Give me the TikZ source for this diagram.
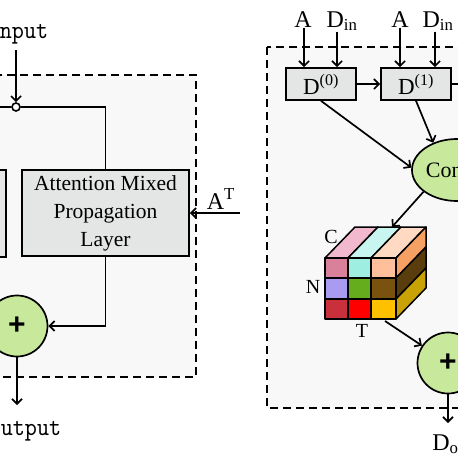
\documentclass[tikz,border=0pt]{standalone}
\usepackage{fontspec}
\setmainfont{Liberation Serif}
\newfontfamily\plusfont{Liberation Sans}
\newfontfamily\mymono[FakeStretch=0.9]{lmmono10-regular.otf}
\usetikzlibrary{arrows.meta,shapes.geometric}
\definecolor{boxgray}{HTML}{E4E6E6}
\definecolor{regiongray}{HTML}{F8F8F8}
\definecolor{plusgreen}{HTML}{C8E99C}
\definecolor{cA}{HTML}{D9809B}
\definecolor{cB}{HTML}{9EEEE2}
\definecolor{cC}{HTML}{FFBF9A}
\definecolor{cD}{HTML}{A99CF0}
\definecolor{cE}{HTML}{66AD1E}
\definecolor{cF}{HTML}{7A5210}
\definecolor{cG}{HTML}{C9303B}
\definecolor{cH}{HTML}{FF0000}
\definecolor{cI}{HTML}{FFC000}
\definecolor{tA}{HTML}{F2B9CE}
\definecolor{tB}{HTML}{C8F5F0}
\definecolor{tC}{HTML}{FFD9C2}
\definecolor{rA}{HTML}{F6A063}
\definecolor{rB}{HTML}{5A3D0C}
\definecolor{rC}{HTML}{C9A205}
\begin{document}
\begin{tikzpicture}[x=1pt,y=-1pt,
  line width=1.7pt,
  arr/.style={-{Straight Barb[length=5pt,width=10pt]}},
  region/.style={draw, dash pattern=on 8pt off 5pt, line width=2pt, fill=regiongray},
  graybox/.style={draw, line width=1.7pt, fill=boxgray, inner sep=0pt, align=center,
    font=\fontsize{21.5}{28}\selectfont},
  dbox/.style={graybox, minimum width=70pt, minimum height=32pt, font=\fontsize{23}{23}\selectfont},
  pluscirc/.style={circle, draw, line width=1.7pt, fill=plusgreen, minimum size=61pt, inner sep=0pt,
    font=\plusfont\bfseries\fontsize{30}{30}\selectfont},
  junc/.style={circle, draw, line width=1.6pt, fill=white, minimum size=8pt, inner sep=0pt},
  lbl/.style={inner sep=0pt, anchor=base, font=\fontsize{24}{24}\selectfont},
  monolbl/.style={inner sep=0pt, anchor=base, font=\mymono\fontsize{25.5}{25.5}\selectfont},
  cubelbl/.style={inner sep=0pt, font=\fontsize{20}{20}\selectfont},
  cell/.style={draw, line width=1.5pt, line join=round}
]
\clip (0,0) rectangle (458,458);
\fill[white] (0,0) rectangle (458,458);

% ---------- left part ----------
\draw[region] (-20,75) rectangle (196,377);
\node[monolbl] (inlbl) at (18,38) {Input};
\coordinate (instart) at (16,50);
\node[junc] (jn) at (16,107) {};
\node[graybox, minimum width=86pt, minimum height=87pt] (leftbox) at (-37,213.5) {};
\node[graybox, minimum width=167pt, minimum height=86pt] (apl) at (105.5,213)
  {Attention Mixed\\Propagation\\Layer};
\node[lbl, anchor=base west] (atl) at (206,209) {A\textsuperscript{T}};
\coordinate (atin) at (240,213);
\node[pluscirc] (plusl) at (17,326) {+};
\coordinate (outend) at (17,405);
\node[monolbl] (outlbl) at (25,435) {Output};

\draw[arr] (instart) -- (jn.north);
\draw (jn.east) -| (apl.north);
\draw (jn.west) -| (leftbox.north);
\draw[arr] (atin) -- (apl.east);
\draw[arr] (apl.south) |- (plusl.east);
\draw[arr] (plusl.south) -- (outend);

% ---------- right part ----------
\draw[region] (267,47) rectangle (480,408);
\node[lbl] (a1) at (303,27) {A};
\node[lbl] (din1) at (342,27) {D\textsubscript{in}};
\node[lbl] (a2) at (400,27) {A};
\node[lbl] (din2) at (438,27) {D\textsubscript{in}};
\node[dbox] (d0) at (321,84) {D\textsuperscript{(0)}};
\node[dbox] (d1) at (416,84) {D\textsuperscript{(1)}};
\coordinate (rout) at (470,84);
\node[ellipse, draw, line width=1.7pt, fill=plusgreen, minimum width=90pt, minimum height=62pt,
  inner sep=0pt, font=\fontsize{22}{22}\selectfont] (con) at (457,170) {Concat};

\draw[arr] ([xshift=1pt]a1.south) -- ([xshift=1pt]a1.south |- d0.north);
\draw[arr] ([xshift=-5pt]din1.south) -- ([xshift=-5pt]din1.south |- d0.north);
\draw[arr] ([xshift=0pt]a2.south) -- ([xshift=0pt]a2.south |- d1.north);
\draw[arr] ([xshift=-3pt]din2.south) -- ([xshift=-3pt]din2.south |- d1.north);
\draw[arr] (d0.east) -- (d1.west);
\draw (d1.east) -- (rout);
\draw[arr] (d0.south) -- (con.177);
\draw[arr] (d1.south) -- (con.131);

% cube
\def\dx{30}\def\dy{-31}
\foreach \xa/\xb/\c in {325/348/tA,348/371/tB,371/396/tC}{
  \draw[cell, fill=\c] (\xa,258) -- (\xb,258) -- (\xb+\dx,258+\dy) -- (\xa+\dx,258+\dy) -- cycle;
}
\foreach \ya/\yb/\c in {258/278/rA,278/299/rB,299/319/rC}{
  \draw[cell, fill=\c] (396,\ya) -- (396,\yb) -- (396+\dx,\yb+\dy) -- (396+\dx,\ya+\dy) -- cycle;
}
\foreach \xa/\xb/\ya/\yb/\c in {
  325/348/258/278/cA, 348/371/258/278/cB, 371/396/258/278/cC,
  325/348/278/299/cD, 348/371/278/299/cE, 371/396/278/299/cF,
  325/348/299/319/cG, 348/371/299/319/cH, 371/396/299/319/cI}{
  \draw[cell, fill=\c] (\xa,\ya) rectangle (\xb,\yb);
}
\node[cubelbl] (clbl) at (331,237) {C};
\node[cubelbl] (nlbl) at (313,287) {N};
\node[cubelbl] (tlbl) at (362,331) {T};
\coordinate (cubetop) at (392,227);
\coordinate (cubeout) at (385,321);

\node[pluscirc] (plusr) at (448,363) {+};
\coordinate (doutend) at (448,423);
\node[lbl] (dout) at (452,450) {D\textsubscript{out}};

\draw[arr] (con.213) -- (cubetop);
\draw[arr] (cubeout) -- (plusr);
\draw[arr] (plusr.south) -- (doutend);
\end{tikzpicture}
\end{document}
